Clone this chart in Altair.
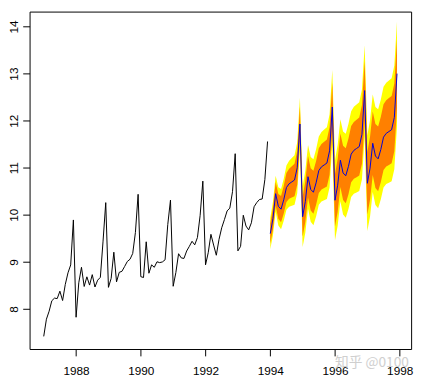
import altair as alt
import pandas as pd

# log souvenir sales, monthly Jan 1987 - Dec 1993
hist_start = 1987
hist_values = [
    7.4175, 7.7822, 7.9519, 8.1740, 8.2304, 8.2201, 8.3779, 8.1794, 8.5216, 8.7678, 8.9360, 9.8913,
    7.8240, 8.5562, 8.8854, 8.4777, 8.6830, 8.5074, 8.7289, 8.4664, 8.6119, 8.6717, 9.4415, 10.2592,
    8.4590, 8.6487, 9.2061, 8.5764, 8.7784, 8.7996, 8.9025, 9.0090, 9.0564, 9.1789, 9.6259, 10.4360,
    8.6863, 8.6682, 9.4272, 8.7593, 8.9372, 8.8853, 9.0023, 8.9846, 8.9988, 9.0451, 9.7934, 10.3128,
    8.4819, 8.7750, 9.1736, 9.0849, 9.0737, 9.2311, 9.3305, 9.4377, 9.3620, 9.5184, 9.9907, 10.7158,
    8.9379, 9.1952, 9.5860, 9.3577, 9.1413, 9.4790, 9.7251, 9.8980, 10.0831, 10.1422, 10.4920, 11.2988,
    9.2344, 9.3297, 9.9909, 9.7618, 9.6802, 9.8310, 10.1718, 10.2607, 10.3257, 10.3360, 10.7501, 11.5585,
]

# forecast Jan 1994 - Dec 1997
fc_start = 1994
fc_mean = [
    9.60, 9.92, 10.45, 10.18, 10.12, 10.32, 10.58, 10.66, 10.70, 10.74, 11.00, 11.93,
    9.96, 10.28, 10.81, 10.54, 10.48, 10.68, 10.94, 11.02, 11.06, 11.10, 11.36, 12.29,
    10.31, 10.63, 11.16, 10.89, 10.83, 11.03, 11.29, 11.37, 11.41, 11.45, 11.71, 12.64,
    10.67, 10.99, 11.52, 11.25, 11.19, 11.39, 11.65, 11.73, 11.77, 11.81, 12.07, 13.00,
]
# half widths of the 80% and 95% intervals
fc_w80 = [
    0.216, 0.233, 0.250, 0.265, 0.279, 0.293, 0.307, 0.319, 0.331, 0.343, 0.354, 0.365,
    0.422, 0.431, 0.440, 0.449, 0.458, 0.466, 0.475, 0.483, 0.491, 0.499, 0.507, 0.515,
    0.556, 0.563, 0.570, 0.577, 0.584, 0.591, 0.597, 0.604, 0.610, 0.617, 0.623, 0.630,
    0.664, 0.670, 0.676, 0.681, 0.687, 0.693, 0.699, 0.704, 0.710, 0.715, 0.721, 0.726,
]
fc_w95 = [
    0.330, 0.356, 0.382, 0.405, 0.427, 0.448, 0.470, 0.488, 0.506, 0.525, 0.541, 0.558,
    0.645, 0.659, 0.673, 0.687, 0.700, 0.713, 0.726, 0.739, 0.751, 0.763, 0.775, 0.788,
    0.850, 0.861, 0.872, 0.882, 0.893, 0.904, 0.913, 0.924, 0.933, 0.944, 0.953, 0.964,
    1.016, 1.025, 1.034, 1.042, 1.051, 1.060, 1.069, 1.077, 1.086, 1.094, 1.103, 1.110,
]

x_ticks = [1988, 1990, 1992, 1994, 1996, 1998]
y_ticks = [8, 9, 10, 11, 12, 13, 14]
watermark = "知乎 @0100"

hist = pd.DataFrame({
    "t": [hist_start + i / 12 for i in range(len(hist_values))],
    "v": hist_values,
})
fc = pd.DataFrame({
    "t": [fc_start + i / 12 for i in range(len(fc_mean))],
    "mean": fc_mean,
    "lo80": [m - w for m, w in zip(fc_mean, fc_w80)],
    "hi80": [m + w for m, w in zip(fc_mean, fc_w80)],
    "lo95": [m - w for m, w in zip(fc_mean, fc_w95)],
    "hi95": [m + w for m, w in zip(fc_mean, fc_w95)],
})

xscale = alt.Scale(domain=[1986.563, 1998.353], nice=False, zero=False)
yscale = alt.Scale(domain=[7.149, 14.318], nice=False, zero=False)
axis_style = dict(
    title=None, grid=False, domain=False, ticks=True, tickColor="black",
    tickSize=7, tickWidth=1, labelFont="Liberation Sans", labelFontSize=12,
    labelColor="black", format="d",
)
xaxis = alt.Axis(values=x_ticks, labelAngle=0, labelPadding=10,
                 labelBaseline="top", labelAlign="center", **axis_style)
yaxis = alt.Axis(values=y_ticks, labelAngle=270, labelAlign="center",
                 labelBaseline="alphabetic", labelPadding=5, **axis_style)

band95 = alt.Chart(fc).mark_area(color="#FFFF00", opacity=1).encode(
    x=alt.X("t:Q", scale=xscale, axis=xaxis),
    y=alt.Y("lo95:Q", scale=yscale, axis=yaxis),
    y2="hi95:Q",
)
band80 = alt.Chart(fc).mark_area(color="#FF8000", opacity=1).encode(
    x=alt.X("t:Q", scale=xscale, axis=xaxis),
    y=alt.Y("lo80:Q", scale=yscale, axis=yaxis),
    y2="hi80:Q",
)
mean_line = alt.Chart(fc).mark_line(color="#0000D8", strokeWidth=1).encode(
    x=alt.X("t:Q", scale=xscale, axis=xaxis),
    y=alt.Y("mean:Q", scale=yscale, axis=yaxis),
)
hist_line = alt.Chart(hist).mark_line(color="black", strokeWidth=1).encode(
    x=alt.X("t:Q", scale=xscale, axis=xaxis),
    y=alt.Y("v:Q", scale=yscale, axis=yaxis),
)
wm = alt.Chart(pd.DataFrame({"txt": [watermark]})).mark_text(
    font="Noto Sans CJK SC", fontSize=14, color="#c4c4c4", opacity=0.8,
    align="center", baseline="middle",
).encode(x=alt.value(349), y=alt.value(358), text="txt:N")

chart = alt.layer(band95, band80, mean_line, hist_line, wm).properties(
    width=389, height=344,
    background="white",
    autosize=alt.AutoSizeParams(type="none"),
    padding={"left": 22, "top": 0, "right": 7, "bottom": 32},
).configure_view(
    stroke="black", strokeWidth=1,
)

chart.save("out.html", embed_options={"renderer": "svg", "actions": False})
